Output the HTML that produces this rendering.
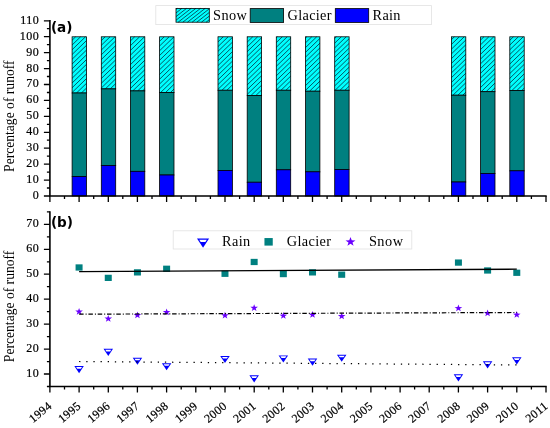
<!DOCTYPE html><html><head><meta charset="utf-8"><title>chart</title><style>html,body{margin:0;padding:0;background:#fff}svg{display:block}</style></head><body><svg width="550" height="428" viewBox="0 0 550 428">
<rect width="550" height="428" fill="#fff"/>
<rect x="72.1" y="36.8" width="14.4" height="56.2" fill="#00ffff"/>
<path d="M72.08 40.25L75.65 36.80M72.08 45.00L80.57 36.80M72.08 49.75L85.49 36.80M72.08 54.50L86.48 40.59M72.08 59.25L86.48 45.34M72.08 64.00L86.48 50.09M72.08 68.75L86.48 54.84M72.08 73.50L86.48 59.59M72.08 78.25L86.48 64.34M72.08 83.00L86.48 69.09M72.08 87.75L86.48 73.84M72.08 92.50L86.48 78.59M76.43 93.05L86.48 83.34M81.34 93.05L86.48 88.09M86.26 93.05L86.48 92.84" stroke="#012" stroke-width="0.7" fill="none"/>
<rect x="72.1" y="36.8" width="14.4" height="56.2" fill="none" stroke="#000" stroke-width="0.8"/>
<rect x="72.1" y="93.0" width="14.4" height="83.5" fill="#008080" stroke="#000" stroke-width="0.8"/>
<rect x="72.1" y="176.6" width="14.4" height="19.4" fill="#0000ff" stroke="#000" stroke-width="0.8"/>
<rect x="101.3" y="36.8" width="14.4" height="52.1" fill="#00ffff"/>
<path d="M101.26 40.57L105.16 36.80M101.26 45.32L110.08 36.80M101.26 50.07L115.00 36.80M101.26 54.82L115.66 40.91M101.26 59.57L115.66 45.66M101.26 64.32L115.66 50.41M101.26 69.07L115.66 55.16M101.26 73.82L115.66 59.91M101.26 78.57L115.66 64.66M101.26 83.32L115.66 69.41M101.26 88.07L115.66 74.16M105.37 88.85L115.66 78.91M110.29 88.85L115.66 83.66M115.21 88.85L115.66 88.41" stroke="#012" stroke-width="0.7" fill="none"/>
<rect x="101.3" y="36.8" width="14.4" height="52.1" fill="none" stroke="#000" stroke-width="0.8"/>
<rect x="101.3" y="88.9" width="14.4" height="76.5" fill="#008080" stroke="#000" stroke-width="0.8"/>
<rect x="101.3" y="165.4" width="14.4" height="30.6" fill="#0000ff" stroke="#000" stroke-width="0.8"/>
<rect x="130.4" y="36.8" width="14.4" height="54.1" fill="#00ffff"/>
<path d="M130.44 40.89L134.67 36.80M130.44 45.64L139.59 36.80M130.44 50.39L144.51 36.80M130.44 55.14L144.84 41.23M130.44 59.89L144.84 45.98M130.44 64.64L144.84 50.73M130.44 69.39L144.84 55.48M130.44 74.14L144.84 60.23M130.44 78.89L144.84 64.98M130.44 83.64L144.84 69.73M130.44 88.39L144.84 74.48M132.81 90.85L144.84 79.23M137.73 90.85L144.84 83.98M142.65 90.85L144.84 88.73" stroke="#012" stroke-width="0.7" fill="none"/>
<rect x="130.4" y="36.8" width="14.4" height="54.1" fill="none" stroke="#000" stroke-width="0.8"/>
<rect x="130.4" y="90.9" width="14.4" height="80.5" fill="#008080" stroke="#000" stroke-width="0.8"/>
<rect x="130.4" y="171.3" width="14.4" height="24.7" fill="#0000ff" stroke="#000" stroke-width="0.8"/>
<rect x="159.6" y="36.8" width="14.4" height="55.8" fill="#00ffff"/>
<path d="M159.62 41.21L164.19 36.80M159.62 45.96L169.11 36.80M159.62 50.71L174.02 36.80M159.62 55.46L174.02 41.55M159.62 60.21L174.02 46.30M159.62 64.96L174.02 51.05M159.62 69.71L174.02 55.80M159.62 74.46L174.02 60.55M159.62 79.21L174.02 65.30M159.62 83.96L174.02 70.05M159.62 88.71L174.02 74.80M160.56 92.55L174.02 79.55M165.48 92.55L174.02 84.30M170.40 92.55L174.02 89.05" stroke="#012" stroke-width="0.7" fill="none"/>
<rect x="159.6" y="36.8" width="14.4" height="55.8" fill="none" stroke="#000" stroke-width="0.8"/>
<rect x="159.6" y="92.5" width="14.4" height="82.5" fill="#008080" stroke="#000" stroke-width="0.8"/>
<rect x="159.6" y="175.0" width="14.4" height="21.0" fill="#0000ff" stroke="#000" stroke-width="0.8"/>
<rect x="218.0" y="36.8" width="14.4" height="53.5" fill="#00ffff"/>
<path d="M217.98 37.10L218.29 36.80M217.98 41.85L223.21 36.80M217.98 46.60L228.13 36.80M217.98 51.35L232.38 37.45M217.98 56.10L232.38 42.20M217.98 60.85L232.38 46.95M217.98 65.60L232.38 51.70M217.98 70.35L232.38 56.45M217.98 75.10L232.38 61.20M217.98 79.85L232.38 65.95M217.98 84.60L232.38 70.70M217.98 89.35L232.38 75.45M221.97 90.25L232.38 80.20M226.89 90.25L232.38 84.95M231.81 90.25L232.38 89.70" stroke="#012" stroke-width="0.7" fill="none"/>
<rect x="218.0" y="36.8" width="14.4" height="53.5" fill="none" stroke="#000" stroke-width="0.8"/>
<rect x="218.0" y="90.2" width="14.4" height="80.2" fill="#008080" stroke="#000" stroke-width="0.8"/>
<rect x="218.0" y="170.4" width="14.4" height="25.6" fill="#0000ff" stroke="#000" stroke-width="0.8"/>
<rect x="247.2" y="36.8" width="14.4" height="58.6" fill="#00ffff"/>
<path d="M247.16 37.42L247.81 36.80M247.16 42.17L252.72 36.80M247.16 46.92L257.64 36.80M247.16 51.67L261.56 37.77M247.16 56.42L261.56 42.52M247.16 61.17L261.56 47.27M247.16 65.92L261.56 52.02M247.16 70.67L261.56 56.77M247.16 75.42L261.56 61.52M247.16 80.17L261.56 66.27M247.16 84.92L261.56 71.02M247.16 89.67L261.56 75.77M247.16 94.42L261.56 80.52M251.12 95.35L261.56 85.27M256.04 95.35L261.56 90.02M260.96 95.35L261.56 94.77" stroke="#012" stroke-width="0.7" fill="none"/>
<rect x="247.2" y="36.8" width="14.4" height="58.6" fill="none" stroke="#000" stroke-width="0.8"/>
<rect x="247.2" y="95.4" width="14.4" height="86.9" fill="#008080" stroke="#000" stroke-width="0.8"/>
<rect x="247.2" y="182.2" width="14.4" height="13.8" fill="#0000ff" stroke="#000" stroke-width="0.8"/>
<rect x="276.3" y="36.8" width="14.4" height="53.5" fill="#00ffff"/>
<path d="M276.34 37.75L277.32 36.80M276.34 42.50L282.24 36.80M276.34 47.25L287.16 36.80M276.34 52.00L290.74 38.09M276.34 56.75L290.74 42.84M276.34 61.50L290.74 47.59M276.34 66.25L290.74 52.34M276.34 71.00L290.74 57.09M276.34 75.75L290.74 61.84M276.34 80.50L290.74 66.59M276.34 85.25L290.74 71.34M276.34 90.00L290.74 76.09M280.99 90.25L290.74 80.84M285.91 90.25L290.74 85.59" stroke="#012" stroke-width="0.7" fill="none"/>
<rect x="276.3" y="36.8" width="14.4" height="53.5" fill="none" stroke="#000" stroke-width="0.8"/>
<rect x="276.3" y="90.2" width="14.4" height="79.6" fill="#008080" stroke="#000" stroke-width="0.8"/>
<rect x="276.3" y="169.8" width="14.4" height="26.2" fill="#0000ff" stroke="#000" stroke-width="0.8"/>
<rect x="305.5" y="36.8" width="14.4" height="54.4" fill="#00ffff"/>
<path d="M305.52 38.07L306.83 36.80M305.52 42.82L311.75 36.80M305.52 47.57L316.67 36.80M305.52 52.32L319.92 38.41M305.52 57.07L319.92 43.16M305.52 61.82L319.92 47.91M305.52 66.57L319.92 52.66M305.52 71.32L319.92 57.41M305.52 76.07L319.92 62.16M305.52 80.82L319.92 66.91M305.52 85.57L319.92 71.66M305.52 90.32L319.92 76.41M309.58 91.15L319.92 81.16M314.49 91.15L319.92 85.91M319.41 91.15L319.92 90.66" stroke="#012" stroke-width="0.7" fill="none"/>
<rect x="305.5" y="36.8" width="14.4" height="54.4" fill="none" stroke="#000" stroke-width="0.8"/>
<rect x="305.5" y="91.2" width="14.4" height="80.7" fill="#008080" stroke="#000" stroke-width="0.8"/>
<rect x="305.5" y="171.8" width="14.4" height="24.2" fill="#0000ff" stroke="#000" stroke-width="0.8"/>
<rect x="334.7" y="36.8" width="14.4" height="53.5" fill="#00ffff"/>
<path d="M334.70 38.39L336.34 36.80M334.70 43.14L341.26 36.80M334.70 47.89L346.18 36.80M334.70 52.64L349.10 38.73M334.70 57.39L349.10 43.48M334.70 62.14L349.10 48.23M334.70 66.89L349.10 52.98M334.70 71.64L349.10 57.73M334.70 76.39L349.10 62.48M334.70 81.14L349.10 67.23M334.70 85.89L349.10 71.98M335.10 90.25L349.10 76.73M340.02 90.25L349.10 81.48M344.94 90.25L349.10 86.23" stroke="#012" stroke-width="0.7" fill="none"/>
<rect x="334.7" y="36.8" width="14.4" height="53.5" fill="none" stroke="#000" stroke-width="0.8"/>
<rect x="334.7" y="90.2" width="14.4" height="79.3" fill="#008080" stroke="#000" stroke-width="0.8"/>
<rect x="334.7" y="169.6" width="14.4" height="26.4" fill="#0000ff" stroke="#000" stroke-width="0.8"/>
<rect x="451.4" y="36.8" width="14.4" height="58.4" fill="#00ffff"/>
<path d="M451.42 39.67L454.39 36.80M451.42 44.42L459.31 36.80M451.42 49.17L464.23 36.80M451.42 53.92L465.82 40.02M451.42 58.67L465.82 44.77M451.42 63.42L465.82 49.52M451.42 68.17L465.82 54.27M451.42 72.92L465.82 59.02M451.42 77.67L465.82 63.77M451.42 82.42L465.82 68.52M451.42 87.17L465.82 73.27M451.42 91.92L465.82 78.02M453.00 95.15L465.82 82.77M457.92 95.15L465.82 87.52M462.83 95.15L465.82 92.27" stroke="#012" stroke-width="0.7" fill="none"/>
<rect x="451.4" y="36.8" width="14.4" height="58.4" fill="none" stroke="#000" stroke-width="0.8"/>
<rect x="451.4" y="95.2" width="14.4" height="86.8" fill="#008080" stroke="#000" stroke-width="0.8"/>
<rect x="451.4" y="182.0" width="14.4" height="14.0" fill="#0000ff" stroke="#000" stroke-width="0.8"/>
<rect x="480.6" y="36.8" width="14.4" height="54.9" fill="#00ffff"/>
<path d="M480.60 39.99L483.91 36.80M480.60 44.74L488.83 36.80M480.60 49.49L493.74 36.80M480.60 54.24L495.00 40.34M480.60 58.99L495.00 45.09M480.60 63.74L495.00 49.84M480.60 68.49L495.00 54.59M480.60 73.24L495.00 59.34M480.60 77.99L495.00 64.09M480.60 82.74L495.00 68.84M480.60 87.49L495.00 73.59M481.21 91.65L495.00 78.34M486.13 91.65L495.00 83.09M491.05 91.65L495.00 87.84" stroke="#012" stroke-width="0.7" fill="none"/>
<rect x="480.6" y="36.8" width="14.4" height="54.9" fill="none" stroke="#000" stroke-width="0.8"/>
<rect x="480.6" y="91.7" width="14.4" height="81.8" fill="#008080" stroke="#000" stroke-width="0.8"/>
<rect x="480.6" y="173.4" width="14.4" height="22.6" fill="#0000ff" stroke="#000" stroke-width="0.8"/>
<rect x="509.8" y="36.8" width="14.4" height="53.7" fill="#00ffff"/>
<path d="M509.78 40.31L513.42 36.80M509.78 45.06L518.34 36.80M509.78 49.81L523.26 36.80M509.78 54.56L524.18 40.66M509.78 59.31L524.18 45.41M509.78 64.06L524.18 50.16M509.78 68.81L524.18 54.91M509.78 73.56L524.18 59.66M509.78 78.31L524.18 64.41M509.78 83.06L524.18 69.16M509.78 87.81L524.18 73.91M511.97 90.45L524.18 78.66M516.89 90.45L524.18 83.41M521.81 90.45L524.18 88.16" stroke="#012" stroke-width="0.7" fill="none"/>
<rect x="509.8" y="36.8" width="14.4" height="53.7" fill="none" stroke="#000" stroke-width="0.8"/>
<rect x="509.8" y="90.5" width="14.4" height="80.4" fill="#008080" stroke="#000" stroke-width="0.8"/>
<rect x="509.8" y="170.8" width="14.4" height="25.2" fill="#0000ff" stroke="#000" stroke-width="0.8"/>
<path d="M49.9 20.1V196.0H546.7" stroke="#000" stroke-width="1.6" fill="none"/>
<path d="M49.9 196.0h-6M49.9 188.0h-3M49.9 180.1h-6M49.9 172.1h-3M49.9 164.1h-6M49.9 156.2h-3M49.9 148.2h-6M49.9 140.2h-3M49.9 132.3h-6M49.9 124.3h-3M49.9 116.3h-6M49.9 108.4h-3M49.9 100.4h-6M49.9 92.5h-3M49.9 84.5h-6M49.9 76.5h-3M49.9 68.6h-6M49.9 60.6h-3M49.9 52.6h-6M49.9 44.7h-3M49.9 36.7h-6M49.9 28.7h-3M49.9 20.8h-6M49.9 196.0v6M64.5 196.0v3M79.1 196.0v6M93.7 196.0v3M108.3 196.0v6M122.8 196.0v3M137.4 196.0v6M152.0 196.0v3M166.6 196.0v6M181.2 196.0v3M195.8 196.0v6M210.4 196.0v3M225.0 196.0v6M239.6 196.0v3M254.2 196.0v6M268.8 196.0v3M283.3 196.0v6M297.9 196.0v3M312.5 196.0v6M327.1 196.0v3M341.7 196.0v6M356.3 196.0v3M370.9 196.0v6M385.5 196.0v3M400.1 196.0v6M414.6 196.0v3M429.2 196.0v6M443.8 196.0v3M458.4 196.0v6M473.0 196.0v3M487.6 196.0v6M502.2 196.0v3M516.8 196.0v6M531.4 196.0v3M546.0 196.0v6" stroke="#000" stroke-width="1.3" fill="none"/>
<text x="39.3" y="198.9" font-family="Liberation Serif, serif" font-size="12" letter-spacing="0.5" text-anchor="end" stroke="#000" stroke-width="0.2">0</text>
<text x="39.3" y="183.0" font-family="Liberation Serif, serif" font-size="12" letter-spacing="0.5" text-anchor="end" stroke="#000" stroke-width="0.2">10</text>
<text x="39.3" y="167.0" font-family="Liberation Serif, serif" font-size="12" letter-spacing="0.5" text-anchor="end" stroke="#000" stroke-width="0.2">20</text>
<text x="39.3" y="151.1" font-family="Liberation Serif, serif" font-size="12" letter-spacing="0.5" text-anchor="end" stroke="#000" stroke-width="0.2">30</text>
<text x="39.3" y="135.2" font-family="Liberation Serif, serif" font-size="12" letter-spacing="0.5" text-anchor="end" stroke="#000" stroke-width="0.2">40</text>
<text x="39.3" y="119.2" font-family="Liberation Serif, serif" font-size="12" letter-spacing="0.5" text-anchor="end" stroke="#000" stroke-width="0.2">50</text>
<text x="39.3" y="103.3" font-family="Liberation Serif, serif" font-size="12" letter-spacing="0.5" text-anchor="end" stroke="#000" stroke-width="0.2">60</text>
<text x="39.3" y="87.4" font-family="Liberation Serif, serif" font-size="12" letter-spacing="0.5" text-anchor="end" stroke="#000" stroke-width="0.2">70</text>
<text x="39.3" y="71.5" font-family="Liberation Serif, serif" font-size="12" letter-spacing="0.5" text-anchor="end" stroke="#000" stroke-width="0.2">80</text>
<text x="39.3" y="55.5" font-family="Liberation Serif, serif" font-size="12" letter-spacing="0.5" text-anchor="end" stroke="#000" stroke-width="0.2">90</text>
<text x="39.3" y="39.6" font-family="Liberation Serif, serif" font-size="12" letter-spacing="0.5" text-anchor="end" stroke="#000" stroke-width="0.2">100</text>
<text x="39.3" y="23.7" font-family="Liberation Serif, serif" font-size="12" letter-spacing="0.5" text-anchor="end" stroke="#000" stroke-width="0.2">110</text>
<text transform="translate(14.2,116.2) rotate(-90)" font-family="Liberation Serif, serif" font-size="13.6" text-anchor="middle">Percentage of runoff</text>
<text transform="translate(50.9,31.6) scale(0.97,1)" font-family="DejaVu Sans, Liberation Sans, sans-serif" font-weight="bold" font-size="14">(a)</text>
<rect x="155.8" y="5.6" width="275.8" height="19" fill="#fff" stroke="#e2e2e2" stroke-width="0.8"/>
<rect x="176" y="8.4" width="33.3" height="13.8" fill="#00ffff"/>
<path d="M176.00 9.32L177.18 8.40M176.00 12.96L181.84 8.40M176.00 16.60L186.50 8.40M176.00 20.24L191.16 8.40M178.16 22.20L195.82 8.40M182.82 22.20L200.48 8.40M187.47 22.20L205.14 8.40M192.13 22.20L209.30 8.79M196.79 22.20L209.30 12.43M201.45 22.20L209.30 16.07M206.11 22.20L209.30 19.71" stroke="#012" stroke-width="0.7" fill="none"/>
<rect x="176" y="8.4" width="33.3" height="13.8" fill="none" stroke="#000" stroke-width="0.8"/>
<text x="213.1" y="19.6" font-family="Liberation Serif, serif" font-size="14.3" letter-spacing="0.35">Snow</text>
<rect x="250.2" y="8.6" width="33.4" height="13.8" fill="#008080" stroke="#000" stroke-width="0.8"/>
<text x="287.6" y="19.6" font-family="Liberation Serif, serif" font-size="14.3" letter-spacing="0.3">Glacier</text>
<rect x="335.3" y="8.6" width="33.4" height="13.8" fill="#0000ff" stroke="#000" stroke-width="0.8"/>
<text x="372.6" y="19.6" font-family="Liberation Serif, serif" font-size="14.3" letter-spacing="0.3">Rain</text>
<path d="M49.9 211.2V386.5H546.7" stroke="#000" stroke-width="1.6" fill="none"/>
<path d="M49.9 386.5h-3M49.9 374.0h-6M49.9 361.6h-3M49.9 349.1h-6M49.9 336.6h-3M49.9 324.1h-6M49.9 311.6h-3M49.9 299.2h-6M49.9 286.7h-3M49.9 274.2h-6M49.9 261.8h-3M49.9 249.3h-6M49.9 236.8h-3M49.9 224.3h-6M49.9 211.8h-3M49.9 386.5v6M64.5 386.5v3M79.1 386.5v6M93.7 386.5v3M108.3 386.5v6M122.8 386.5v3M137.4 386.5v6M152.0 386.5v3M166.6 386.5v6M181.2 386.5v3M195.8 386.5v6M210.4 386.5v3M225.0 386.5v6M239.6 386.5v3M254.2 386.5v6M268.8 386.5v3M283.3 386.5v6M297.9 386.5v3M312.5 386.5v6M327.1 386.5v3M341.7 386.5v6M356.3 386.5v3M370.9 386.5v6M385.5 386.5v3M400.1 386.5v6M414.6 386.5v3M429.2 386.5v6M443.8 386.5v3M458.4 386.5v6M473.0 386.5v3M487.6 386.5v6M502.2 386.5v3M516.8 386.5v6M531.4 386.5v3M546.0 386.5v6" stroke="#000" stroke-width="1.3" fill="none"/>
<text x="39.3" y="376.9" font-family="Liberation Serif, serif" font-size="12" letter-spacing="0.5" text-anchor="end" stroke="#000" stroke-width="0.2">10</text>
<text x="39.3" y="352.0" font-family="Liberation Serif, serif" font-size="12" letter-spacing="0.5" text-anchor="end" stroke="#000" stroke-width="0.2">20</text>
<text x="39.3" y="327.0" font-family="Liberation Serif, serif" font-size="12" letter-spacing="0.5" text-anchor="end" stroke="#000" stroke-width="0.2">30</text>
<text x="39.3" y="302.1" font-family="Liberation Serif, serif" font-size="12" letter-spacing="0.5" text-anchor="end" stroke="#000" stroke-width="0.2">40</text>
<text x="39.3" y="277.1" font-family="Liberation Serif, serif" font-size="12" letter-spacing="0.5" text-anchor="end" stroke="#000" stroke-width="0.2">50</text>
<text x="39.3" y="252.2" font-family="Liberation Serif, serif" font-size="12" letter-spacing="0.5" text-anchor="end" stroke="#000" stroke-width="0.2">60</text>
<text x="39.3" y="227.2" font-family="Liberation Serif, serif" font-size="12" letter-spacing="0.5" text-anchor="end" stroke="#000" stroke-width="0.2">70</text>
<text transform="translate(14.2,306.4) rotate(-90)" font-family="Liberation Serif, serif" font-size="13.6" text-anchor="middle">Percentage of runoff</text>
<text transform="translate(50.9,226.7) scale(0.97,1)" font-family="DejaVu Sans, Liberation Sans, sans-serif" font-weight="bold" font-size="14">(b)</text>
<text transform="translate(52.5,407.2) rotate(-39.5)" font-family="Liberation Serif, serif" letter-spacing="0.3" font-size="12" text-anchor="end" stroke="#000" stroke-width="0.2">1994</text>
<text transform="translate(81.7,407.2) rotate(-39.5)" font-family="Liberation Serif, serif" letter-spacing="0.3" font-size="12" text-anchor="end" stroke="#000" stroke-width="0.2">1995</text>
<text transform="translate(110.9,407.2) rotate(-39.5)" font-family="Liberation Serif, serif" letter-spacing="0.3" font-size="12" text-anchor="end" stroke="#000" stroke-width="0.2">1996</text>
<text transform="translate(140.0,407.2) rotate(-39.5)" font-family="Liberation Serif, serif" letter-spacing="0.3" font-size="12" text-anchor="end" stroke="#000" stroke-width="0.2">1997</text>
<text transform="translate(169.2,407.2) rotate(-39.5)" font-family="Liberation Serif, serif" letter-spacing="0.3" font-size="12" text-anchor="end" stroke="#000" stroke-width="0.2">1998</text>
<text transform="translate(198.4,407.2) rotate(-39.5)" font-family="Liberation Serif, serif" letter-spacing="0.3" font-size="12" text-anchor="end" stroke="#000" stroke-width="0.2">1999</text>
<text transform="translate(227.6,407.2) rotate(-39.5)" font-family="Liberation Serif, serif" letter-spacing="0.3" font-size="12" text-anchor="end" stroke="#000" stroke-width="0.2">2000</text>
<text transform="translate(256.8,407.2) rotate(-39.5)" font-family="Liberation Serif, serif" letter-spacing="0.3" font-size="12" text-anchor="end" stroke="#000" stroke-width="0.2">2001</text>
<text transform="translate(285.9,407.2) rotate(-39.5)" font-family="Liberation Serif, serif" letter-spacing="0.3" font-size="12" text-anchor="end" stroke="#000" stroke-width="0.2">2002</text>
<text transform="translate(315.1,407.2) rotate(-39.5)" font-family="Liberation Serif, serif" letter-spacing="0.3" font-size="12" text-anchor="end" stroke="#000" stroke-width="0.2">2003</text>
<text transform="translate(344.3,407.2) rotate(-39.5)" font-family="Liberation Serif, serif" letter-spacing="0.3" font-size="12" text-anchor="end" stroke="#000" stroke-width="0.2">2004</text>
<text transform="translate(373.5,407.2) rotate(-39.5)" font-family="Liberation Serif, serif" letter-spacing="0.3" font-size="12" text-anchor="end" stroke="#000" stroke-width="0.2">2005</text>
<text transform="translate(402.7,407.2) rotate(-39.5)" font-family="Liberation Serif, serif" letter-spacing="0.3" font-size="12" text-anchor="end" stroke="#000" stroke-width="0.2">2006</text>
<text transform="translate(431.8,407.2) rotate(-39.5)" font-family="Liberation Serif, serif" letter-spacing="0.3" font-size="12" text-anchor="end" stroke="#000" stroke-width="0.2">2007</text>
<text transform="translate(461.0,407.2) rotate(-39.5)" font-family="Liberation Serif, serif" letter-spacing="0.3" font-size="12" text-anchor="end" stroke="#000" stroke-width="0.2">2008</text>
<text transform="translate(490.2,407.2) rotate(-39.5)" font-family="Liberation Serif, serif" letter-spacing="0.3" font-size="12" text-anchor="end" stroke="#000" stroke-width="0.2">2009</text>
<text transform="translate(519.4,407.2) rotate(-39.5)" font-family="Liberation Serif, serif" letter-spacing="0.3" font-size="12" text-anchor="end" stroke="#000" stroke-width="0.2">2010</text>
<text transform="translate(548.6,407.2) rotate(-39.5)" font-family="Liberation Serif, serif" letter-spacing="0.3" font-size="12" text-anchor="end" stroke="#000" stroke-width="0.2">2011</text>
<rect x="75.58" y="264.35" width="7.0" height="6.25" fill="#008080"/>
<polygon points="79.08,307.98 80.02,310.50 82.88,310.55 80.60,312.16 81.43,314.71 79.08,313.19 76.73,314.71 77.56,312.16 75.28,310.55 78.14,310.50" fill="#6a00ff"/>
<polygon points="74.33,366.10 83.83,366.10 79.08,373.20" fill="#0000ff"/><polygon points="76.12,367.05 82.04,367.05 80.94,368.70 77.22,368.70" fill="#fff"/>
<rect x="104.76" y="274.75" width="7.0" height="6.25" fill="#008080"/>
<polygon points="108.26,314.98 109.20,317.50 112.06,317.55 109.78,319.16 110.61,321.71 108.26,320.19 105.91,321.71 106.74,319.16 104.46,317.55 107.32,317.50" fill="#6a00ff"/>
<polygon points="103.51,348.80 113.01,348.80 108.26,355.90" fill="#0000ff"/><polygon points="105.30,349.75 111.22,349.75 110.12,351.40 106.40,351.40" fill="#fff"/>
<rect x="133.94" y="269.25" width="7.0" height="6.25" fill="#008080"/>
<polygon points="137.44,311.48 138.38,314.00 141.24,314.05 138.96,315.66 139.79,318.21 137.44,316.69 135.09,318.21 135.92,315.66 133.64,314.05 136.50,314.00" fill="#6a00ff"/>
<polygon points="132.69,357.70 142.19,357.70 137.44,364.80" fill="#0000ff"/><polygon points="134.48,358.65 140.40,358.65 139.30,360.30 135.58,360.30" fill="#fff"/>
<rect x="163.12" y="265.65" width="7.0" height="6.25" fill="#008080"/>
<polygon points="166.62,308.48 167.56,311.00 170.42,311.05 168.14,312.66 168.97,315.21 166.62,313.69 164.27,315.21 165.10,312.66 162.82,311.05 165.68,311.00" fill="#6a00ff"/>
<polygon points="161.87,363.20 171.37,363.20 166.62,370.30" fill="#0000ff"/><polygon points="163.66,364.15 169.58,364.15 168.48,365.80 164.76,365.80" fill="#fff"/>
<rect x="221.48" y="270.65" width="7.0" height="6.25" fill="#008080"/>
<polygon points="224.98,311.78 225.92,314.30 228.78,314.35 226.50,315.96 227.33,318.51 224.98,316.99 222.63,318.51 223.46,315.96 221.18,314.35 224.04,314.30" fill="#6a00ff"/>
<polygon points="220.23,356.00 229.73,356.00 224.98,363.10" fill="#0000ff"/><polygon points="222.02,356.95 227.94,356.95 226.84,358.60 223.12,358.60" fill="#fff"/>
<rect x="250.66" y="258.85" width="7.0" height="6.25" fill="#008080"/>
<polygon points="254.16,304.28 255.10,306.80 257.96,306.85 255.68,308.46 256.51,311.01 254.16,309.49 251.81,311.01 252.64,308.46 250.36,306.85 253.22,306.80" fill="#6a00ff"/>
<polygon points="249.41,375.30 258.91,375.30 254.16,382.40" fill="#0000ff"/><polygon points="251.20,376.25 257.12,376.25 256.02,377.90 252.30,377.90" fill="#fff"/>
<rect x="279.84" y="270.95" width="7.0" height="6.25" fill="#008080"/>
<polygon points="283.34,312.08 284.28,314.60 287.14,314.65 284.86,316.26 285.69,318.81 283.34,317.29 280.99,318.81 281.82,316.26 279.54,314.65 282.40,314.60" fill="#6a00ff"/>
<polygon points="278.59,355.40 288.09,355.40 283.34,362.50" fill="#0000ff"/><polygon points="280.38,356.35 286.30,356.35 285.20,358.00 281.48,358.00" fill="#fff"/>
<rect x="309.02" y="269.25" width="7.0" height="6.25" fill="#008080"/>
<polygon points="312.52,311.08 313.46,313.60 316.32,313.65 314.04,315.26 314.87,317.81 312.52,316.29 310.17,317.81 311.00,315.26 308.72,313.65 311.58,313.60" fill="#6a00ff"/>
<polygon points="307.77,358.60 317.27,358.60 312.52,365.70" fill="#0000ff"/><polygon points="309.56,359.55 315.48,359.55 314.38,361.20 310.66,361.20" fill="#fff"/>
<rect x="338.20" y="271.55" width="7.0" height="6.25" fill="#008080"/>
<polygon points="341.70,312.48 342.64,315.00 345.50,315.05 343.22,316.66 344.05,319.21 341.70,317.69 339.35,319.21 340.18,316.66 337.90,315.05 340.76,315.00" fill="#6a00ff"/>
<polygon points="336.95,354.70 346.45,354.70 341.70,361.80" fill="#0000ff"/><polygon points="338.74,355.65 344.66,355.65 343.56,357.30 339.84,357.30" fill="#fff"/>
<rect x="454.92" y="259.45" width="7.0" height="6.25" fill="#008080"/>
<polygon points="458.42,304.58 459.36,307.10 462.22,307.15 459.94,308.76 460.77,311.31 458.42,309.79 456.07,311.31 456.90,308.76 454.62,307.15 457.48,307.10" fill="#6a00ff"/>
<polygon points="453.67,374.30 463.17,374.30 458.42,381.40" fill="#0000ff"/><polygon points="455.46,375.25 461.38,375.25 460.28,376.90 456.56,376.90" fill="#fff"/>
<rect x="484.10" y="267.35" width="7.0" height="6.25" fill="#008080"/>
<polygon points="487.60,309.48 488.54,312.00 491.40,312.05 489.12,313.66 489.95,316.21 487.60,314.69 485.25,316.21 486.08,313.66 483.80,312.05 486.66,312.00" fill="#6a00ff"/>
<polygon points="482.85,361.30 492.35,361.30 487.60,368.40" fill="#0000ff"/><polygon points="484.64,362.25 490.56,362.25 489.46,363.90 485.74,363.90" fill="#fff"/>
<rect x="513.28" y="269.65" width="7.0" height="6.25" fill="#008080"/>
<polygon points="516.78,311.08 517.72,313.60 520.58,313.65 518.30,315.26 519.13,317.81 516.78,316.29 514.43,317.81 515.26,315.26 512.98,313.65 515.84,313.60" fill="#6a00ff"/>
<polygon points="512.03,357.30 521.53,357.30 516.78,364.40" fill="#0000ff"/><polygon points="513.82,358.25 519.74,358.25 518.64,359.90 514.92,359.90" fill="#fff"/>
<line x1="79.1" y1="271.6" x2="516.8" y2="269.2" stroke="#000" stroke-width="1.3"/>
<line x1="79.1" y1="314.2" x2="516.8" y2="312.5" stroke="#000" stroke-width="1.2" stroke-dasharray="4.5 2 1 1.8"/>
<line x1="79.1" y1="361.5" x2="516.8" y2="365.0" stroke="#000" stroke-width="1.25" stroke-dasharray="1.3 5.85"/>
<rect x="173.2" y="230.8" width="238.6" height="18.2" fill="#fff" stroke="#e2e2e2" stroke-width="0.8"/>
<polygon points="197.00,238.60 209.10,238.60 203.05,247.70" fill="#0000ff"/><polygon points="199.28,239.82 206.82,239.82 205.41,241.93 200.69,241.93" fill="#fff"/>
<text x="222.0" y="245.8" font-family="Liberation Serif, serif" font-size="14.3" letter-spacing="0.4">Rain</text>
<rect x="264.45" y="238.05" width="8.3" height="7.550000000000001" fill="#008080"/>
<text x="286.8" y="245.8" font-family="Liberation Serif, serif" font-size="14.3" letter-spacing="0.35">Glacier</text>
<polygon points="350.50,237.02 351.73,240.32 355.49,240.39 352.50,242.50 353.59,245.85 350.50,243.85 347.41,245.85 348.50,242.50 345.51,240.39 349.27,240.32" fill="#6a00ff"/>
<text x="368.9" y="245.8" font-family="Liberation Serif, serif" font-size="14.3" letter-spacing="0.5">Snow</text>
</svg></body></html>
